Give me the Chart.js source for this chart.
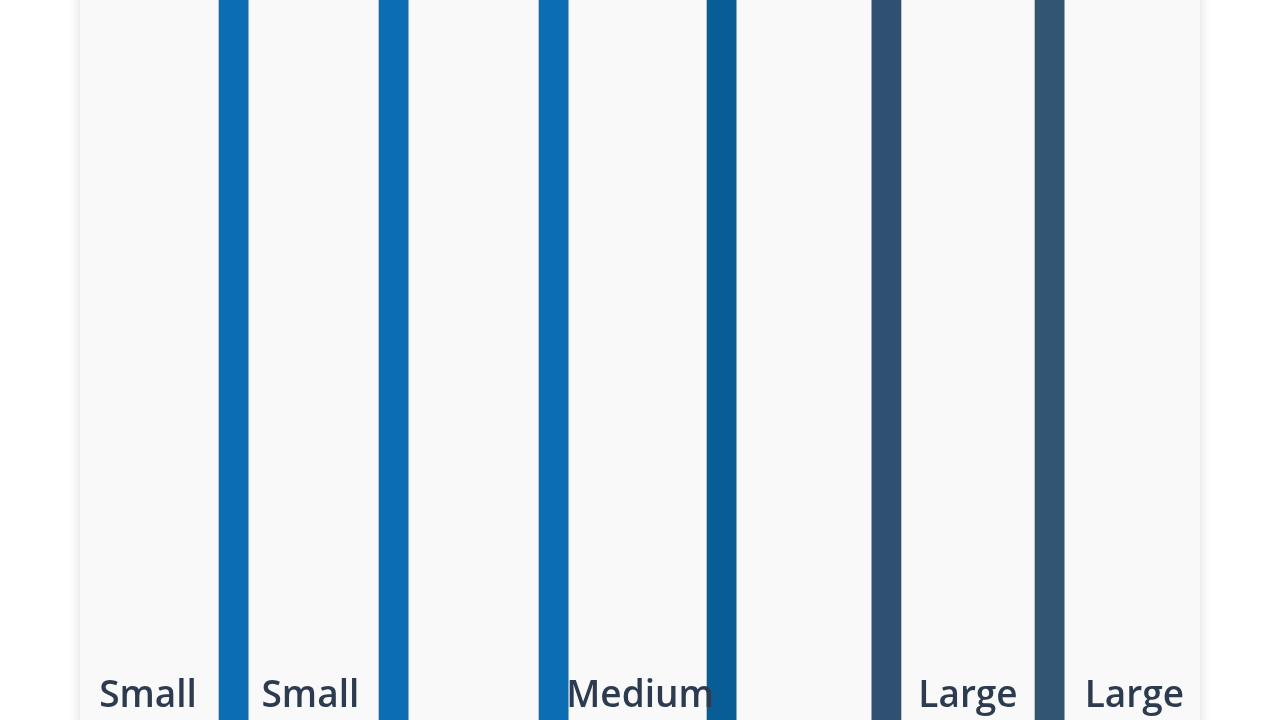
<!DOCTYPE html>
<html>
<head>
<meta charset="utf-8">
<script src="https://cdn.jsdelivr.net/npm/chart.js@4/dist/chart.umd.min.js"></script>
<style>
  html, body { margin: 0; padding: 0; background: #ffffff; }
  #wrap { width: 1280px; height: 720px; position: relative; }
</style>
</head>
<body>
<div id="wrap"><canvas id="c"></canvas></div>
<script>
// Bar positions along the x axis (panel spans 0..7)
const barPositions = [0.96, 1.96, 2.96, 4.01, 5.04, 6.06];
// Bar values (all bars run past the visible top of the view)
const barValues = [100, 100, 100, 100, 100, 100];
const barColors = ['#0b6db4', '#0b6db4', '#0b6eb5', '#085d96', '#2f5071', '#325574'];

// Size labels and their positions along the x axis
const sizeLabels = ['Small', 'Small', 'Medium', 'Large', 'Large'];
const sizeLabelPositions = [0.425, 1.44, 3.5, 5.55, 6.59];

const panelPlugin = {
  id: 'panel',
  beforeDraw(chart) {
    const { ctx, chartArea } = chart;
    ctx.save();
    ctx.shadowColor = 'rgba(0,0,0,0.14)';
    ctx.shadowBlur = 12;
    ctx.fillStyle = '#f9f9f9';
    ctx.fillRect(chartArea.left, chartArea.top - 20, chartArea.right - chartArea.left, chartArea.bottom - chartArea.top + 40);
    ctx.restore();
  }
};

const labelPlugin = {
  id: 'sizeLabels',
  afterDatasetsDraw(chart) {
    const { ctx, chartArea, scales } = chart;
    ctx.save();
    ctx.font = '600 37px "Open Sans", "Noto Sans", sans-serif';
    ctx.fillStyle = '#2c3b4f';
    ctx.textAlign = 'center';
    ctx.textBaseline = 'alphabetic';
    sizeLabels.forEach((txt, i) => {
      const x = scales.x.getPixelForValue(sizeLabelPositions[i]);
      ctx.fillText(txt, x, chartArea.bottom - 13);
    });
    ctx.restore();
  }
};

new Chart(document.getElementById('c'), {
  type: 'bar',
  data: {
    datasets: [{
      data: barPositions.map((p, i) => ({ x: p, y: barValues[i] })),
      backgroundColor: barColors,
      borderColor: barColors.map(() => 'rgba(0,0,0,0.08)'),
      borderWidth: { left: 1, right: 1, top: 0, bottom: 0 },
      barThickness: 31
    }]
  },
  options: {
    responsive: true,
    maintainAspectRatio: false,
    animation: false,
    layout: { padding: { left: 80, right: 80, top: 0, bottom: 0 } },
    plugins: { legend: { display: false }, tooltip: { enabled: false } },
    scales: {
      x: { type: 'linear', min: 0, max: 7, offset: false, display: false },
      y: { min: 0, max: 100, display: false }
    }
  },
  plugins: [panelPlugin, labelPlugin]
});
</script>
</body>
</html>
